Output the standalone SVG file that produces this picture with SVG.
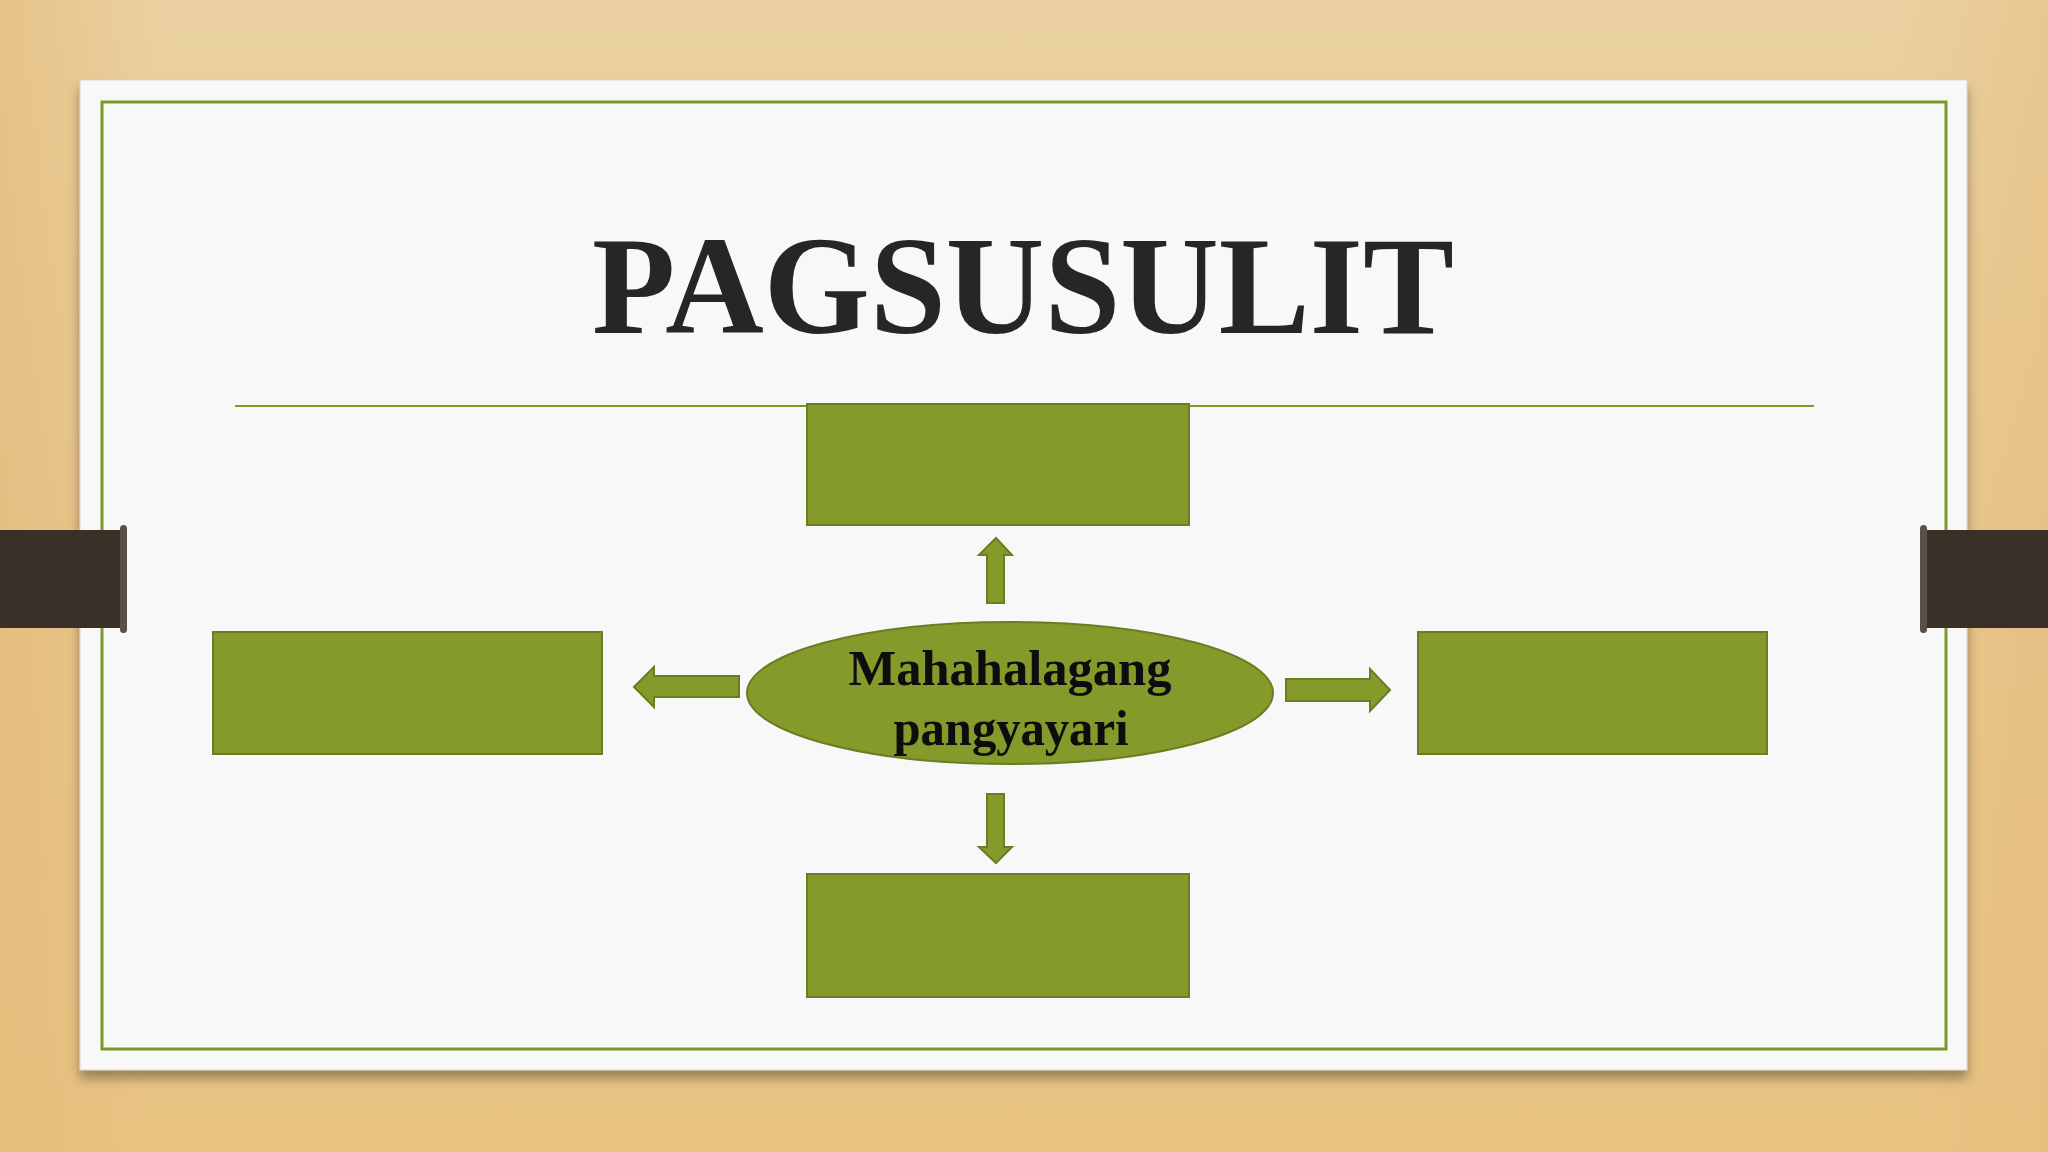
<svg xmlns="http://www.w3.org/2000/svg" width="2048" height="1152" viewBox="0 0 2048 1152">
  <defs>
    <linearGradient id="wood" x1="0" y1="0" x2="0" y2="1">
      <stop offset="0" stop-color="#ebd2a2"/>
      <stop offset="0.5" stop-color="#e8c78e"/>
      <stop offset="1" stop-color="#e9c483"/>
    </linearGradient>
    <linearGradient id="woodside" x1="0" y1="0" x2="1" y2="0">
      <stop offset="0" stop-color="#e2b878" stop-opacity="0.6"/>
      <stop offset="0.08" stop-color="#e2b878" stop-opacity="0"/>
      <stop offset="0.92" stop-color="#e2b878" stop-opacity="0"/>
      <stop offset="1" stop-color="#e2b878" stop-opacity="0.4"/>
    </linearGradient>
    <filter id="shadow" x="-5%" y="-5%" width="110%" height="115%">
      <feGaussianBlur in="SourceAlpha" stdDeviation="6"/>
      <feOffset dx="0" dy="8"/>
      <feComponentTransfer><feFuncA type="linear" slope="0.35"/></feComponentTransfer>
      <feMerge><feMergeNode/><feMergeNode in="SourceGraphic"/></feMerge>
    </filter>
  </defs>
  <style>
    .box { fill: #849a2b; stroke: #6a7d22; stroke-width: 2; }
    .arrow { fill: #849a2b; stroke: #6a7d22; stroke-width: 2; stroke-linejoin: miter; }
    .tab { fill: #3a3028; }
    .title { font-family: "Liberation Serif", "DejaVu Serif", serif; font-weight: bold; fill: #262626; }
    .label { font-family: "Liberation Serif", "DejaVu Serif", serif; font-weight: bold; fill: #0d0d0d; font-size: 50px; }
  </style>

  <rect x="0" y="0" width="2048" height="1152" fill="url(#wood)"/>
  <rect x="0" y="0" width="2048" height="1152" fill="url(#woodside)"/>

  <g id="card">
    <rect x="80" y="80" width="1887" height="990" fill="#f8f8f8" stroke="#d8d4c8" stroke-width="1" filter="url(#shadow)"/>
    <rect x="102" y="102" width="1844" height="947" fill="none" stroke="#7a9a2a" stroke-width="3"/>
  </g>

  <g id="tabs">
    <rect class="tab" x="0" y="530" width="127" height="98"/>
    <rect x="120" y="525" width="7" height="108" rx="3.5" fill="#5a5048"/>
    <rect class="tab" x="1920" y="530" width="128" height="98"/>
    <rect x="1920" y="525" width="7" height="108" rx="3.5" fill="#5a5048"/>
  </g>

  <g id="title">
    <text class="title" x="1023" y="333" font-size="140" text-anchor="middle" textLength="862" lengthAdjust="spacingAndGlyphs">PAGSUSULIT</text>
    <line x1="235" y1="406" x2="1814" y2="406" stroke="#7a9a2a" stroke-width="2"/>
  </g>

  <g id="node-top"><rect class="box" x="807" y="404" width="382" height="121"/></g>
  <g id="node-left"><rect class="box" x="213" y="632" width="389" height="122"/></g>
  <g id="node-right"><rect class="box" x="1418" y="632" width="349" height="122"/></g>
  <g id="node-bottom"><rect class="box" x="807" y="874" width="382" height="123"/></g>

  <g id="node-center">
    <ellipse class="box" cx="1010" cy="693" rx="263" ry="71"/>
    <text class="label" x="1010" y="685" text-anchor="middle" textLength="323" lengthAdjust="spacingAndGlyphs">Mahahalagang</text>
    <text class="label" x="1011" y="745" text-anchor="middle" textLength="235" lengthAdjust="spacingAndGlyphs">pangyayari</text>
  </g>

  <g id="connectors">
    <polygon class="arrow" points="996,538 1012,555 1004,555 1004,603 987,603 987,555 979,555"/>
    <polygon class="arrow" points="996,863 1012,847 1004,847 1004,794 987,794 987,847 979,847"/>
    <polygon class="arrow" points="634,687 654,667 654,676 739,676 739,697 654,697 654,707"/>
    <polygon class="arrow" points="1390,690 1370,669 1370,679 1286,679 1286,701 1370,701 1370,711"/>
  </g>
</svg>
